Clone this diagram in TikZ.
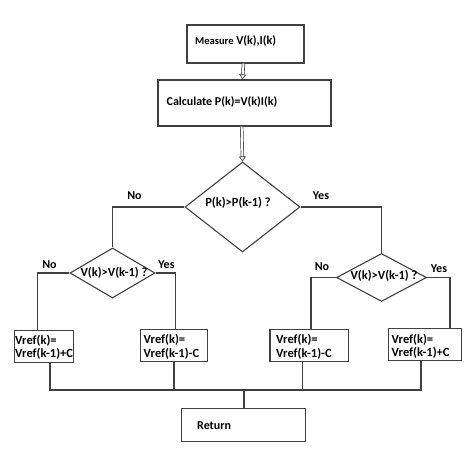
\documentclass[tikz,border=0pt]{standalone}
\usepackage{fontspec}
\setmainfont{Carlito}
\usetikzlibrary{shapes.geometric,arrows.meta}
\begin{document}
\begin{tikzpicture}[x=1pt,y=-1pt,
  ln/.style={draw=black!75, line width=1.1pt},
  box/.style={ln, rectangle, inner sep=0pt},
  dia/.style={ln, diamond, inner sep=0pt},
  txt/.style={font=\fontsize{12}{13.5}\selectfont\bfseries, inner sep=0pt, align=left},
  vtxt/.style={txt, font=\fontsize{12.5}{13.5}\selectfont\bfseries},
  hollow/.style={draw=black!75, double=white, double distance=2pt, line width=0.7pt, -{Triangle[open,length=5pt,width=7pt]}}
]
\useasboundingbox (0,0) rectangle (474,454);
% boxes
\node[box, minimum width=117pt, minimum height=38pt] (m) at (245.5,44) {};
\node[txt, anchor=west] (mt) at (195,41) {{\fontsize{10.5}{12}\selectfont Measure} V(k),I(k)};
\node[box, minimum width=173pt, minimum height=46pt] (c) at (244.5,103) {};
\node[txt, anchor=west] (ct) at (166.5,102) {Calculate P(k)=V(k)I(k)};
% diamonds
\node[dia, minimum width=115pt, minimum height=90pt] (d1) at (242.5,207) {};
\node[vtxt] (d1t) at (238,203) {P(k)>P(k-1) ?};
\node[dia, minimum width=85pt, minimum height=50pt] (d2) at (112.5,273) {};
\node[vtxt] (d2t) at (114,272.5) {V(k)>V(k-1) ?};
\node[dia, minimum width=90pt, minimum height=48pt] (d3) at (381.5,277.5) {};
\node[vtxt] (d3t) at (384,276) {V(k)>V(k-1) ?};
% result boxes
\node[box, minimum width=59pt, minimum height=31.5pt] (b1) at (43.7,346.5) {};
\node[vtxt, anchor=west] (b1t) at (15,347.5) {Vref(k)=\\Vref(k-1)+C};
\node[box, minimum width=66.5pt, minimum height=32.5pt] (b2) at (174,345.5) {};
\node[vtxt, anchor=west] (b2t) at (143.5,347) {Vref(k)=\\Vref(k-1)-C};
\node[box, minimum width=78.5pt, minimum height=32.5pt] (b3) at (309.2,345.5) {};
\node[vtxt, anchor=west] (b3t) at (276,347) {Vref(k)=\\Vref(k-1)-C};
\node[box, minimum width=73.5pt, minimum height=32pt] (b4) at (425,344.7) {};
\node[vtxt, anchor=west] (b4t) at (391.5,346.5) {Vref(k)=\\Vref(k-1)+C};
\node[box, minimum width=124pt, minimum height=33pt] (r) at (243.7,424.7) {};
\node[txt, anchor=west] (rt) at (197,426) {Return};
% labels
\node[txt] (no1) at (134.5,196) {No};
\node[txt] (yes1) at (321,196) {Yes};
\node[txt] (no2) at (49.5,265) {No};
\node[txt] (yes2) at (166.5,265) {Yes};
\node[txt] (no3) at (322,267) {No};
\node[txt] (yes3) at (439,269) {Yes};
% hollow arrows
\draw[hollow] ([xshift=-2pt]m.south) -- ([xshift=-2pt]c.north);
\draw[hollow] ([xshift=-2.8pt]c.south) -- (d1.north);
% branches
\draw[ln] (d1.west) -| (d2.north);
\draw[ln] (d1.east) -| (d3.north);
\draw[ln] (d2.west) -| ([xshift=-6pt]b1.north);
\draw[ln] (d2.east) -| ([xshift=1.7pt]b2.north);
\draw[ln] (d3.west) -| ([xshift=1.8pt]b3.north);
\draw[ln] (d3.east) -| ([xshift=25pt]b4.north);
% bus
\coordinate (bl) at (50,390);
\coordinate (br) at (421,390);
\draw[ln] ([xshift=6.3pt]b1.south) -- (bl) -- (br) -- ([xshift=-4pt]b4.south);
\draw[ln] (b2.south) -- (b2.south |- bl);
\draw[ln] ([xshift=-6.5pt]b3.south) -- ([xshift=-6.5pt]b3.south |- bl);
\draw[ln] (r.north -| 244,0) -- (bl -| 244,0);
\end{tikzpicture}
\end{document}
